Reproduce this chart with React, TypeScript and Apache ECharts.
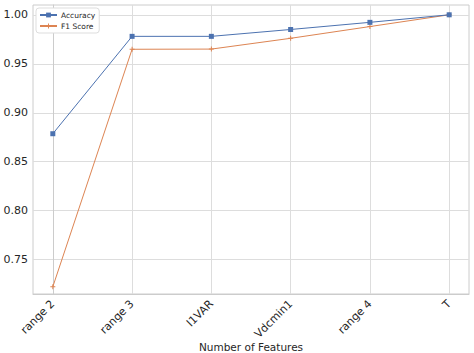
import React, { useEffect, useRef } from "react";
import * as echarts from "echarts";

const categories = ["range 2", "range 3", "I1VAR", "Vdcmin1", "range 4", "T"];
const accuracy = [0.8786, 0.978, 0.978, 0.985, 0.9923, 1.0];
const f1Score = [0.7224, 0.9648, 0.965, 0.976, 0.988, 1.0];
const yTicks = [0.75, 0.8, 0.85, 0.9, 0.95, 1.0];
const xTickIdx = [0, 1, 2, 3, 4, 5];

const FONT = "DejaVu Sans";

export default function App() {
  const ref = useRef<HTMLDivElement>(null);
  useEffect(() => {
    if (!ref.current) return;
    const chart = echarts.init(ref.current, null, { renderer: "svg" });
    const plus = "path://M4,0h2v4h4v2h-4v4h-2v-4h-4v-2h4z";
    chart.setOption({
      animation: false,
      backgroundColor: "#ffffff",
      grid: {
        left: 33,
        right: 5,
        top: 5,
        bottom: 59,
        outerBoundsMode: "none",
        containLabel: false,
        show: true,
        borderColor: "#cccccc",
        borderWidth: 1,
        backgroundColor: "#ffffff",
      },
      legend: {
        orient: "vertical",
        left: 36,
        top: 8,
        padding: [3, 4, 3, 3],
        itemGap: 3,
        itemWidth: 17,
        itemHeight: 6,
        backgroundColor: "#ffffff",
        borderColor: "#dddddd",
        borderWidth: 1,
        borderRadius: 3,
        textStyle: { fontFamily: FONT, fontSize: 7.5, color: "#262626", padding: [0, 0, 0, -1] },
        data: ["Accuracy", "F1 Score"],
      },
      xAxis: {
        type: "value",
        min: -0.25,
        max: 5.25,
        name: "Number of Features",
        nameLocation: "middle",
        nameGap: 47,
        nameMoveOverlap: false,
        nameTextStyle: { fontFamily: FONT, fontSize: 10.5, color: "#262626" },
        axisLine: { show: true, lineStyle: { color: "#cccccc" } },
        axisTick: { show: false, customValues: xTickIdx },
        axisLabel: {
          customValues: xTickIdx,
          rotate: 45,
          margin: 8,
          fontFamily: FONT,
          fontSize: 11,
          color: "#262626",
          formatter: (v: number) => categories[Math.round(v)] ?? "",
        },
        splitLine: { show: true, lineStyle: { color: "#dddddd", width: 1 } },
      },
      yAxis: {
        type: "value",
        min: 0.715,
        max: 1.01,
        axisLine: { show: true, lineStyle: { color: "#cccccc" } },
        axisTick: { show: false, customValues: yTicks },
        axisLabel: {
          customValues: yTicks,
          margin: 5,
          fontFamily: FONT,
          fontSize: 11,
          color: "#262626",
          formatter: (v: number) => v.toFixed(2),
        },
        splitLine: { show: true, lineStyle: { color: "#dddddd", width: 1 } },
      },
      series: [
        {
          name: "Accuracy",
          type: "line",
          data: accuracy.map((v, i) => [i, v]),
          symbol: "rect",
          symbolSize: 5,
          lineStyle: { color: "#4c72b0", width: 1 },
          itemStyle: { color: "#4c72b0" },
          z: 3,
        },
        {
          name: "F1 Score",
          type: "line",
          data: f1Score.map((v, i) => [i, v]),
          symbol: plus,
          symbolSize: 5,
          lineStyle: { color: "#dd8452", width: 1 },
          itemStyle: { color: "#dd8452" },
          z: 2,
        },
      ],
    });
    return () => chart.dispose();
  }, []);
  return (
    <div
      ref={ref}
      style={{ position: "fixed", left: 0, top: 0, width: 474, height: 353 }}
    />
  );
}
